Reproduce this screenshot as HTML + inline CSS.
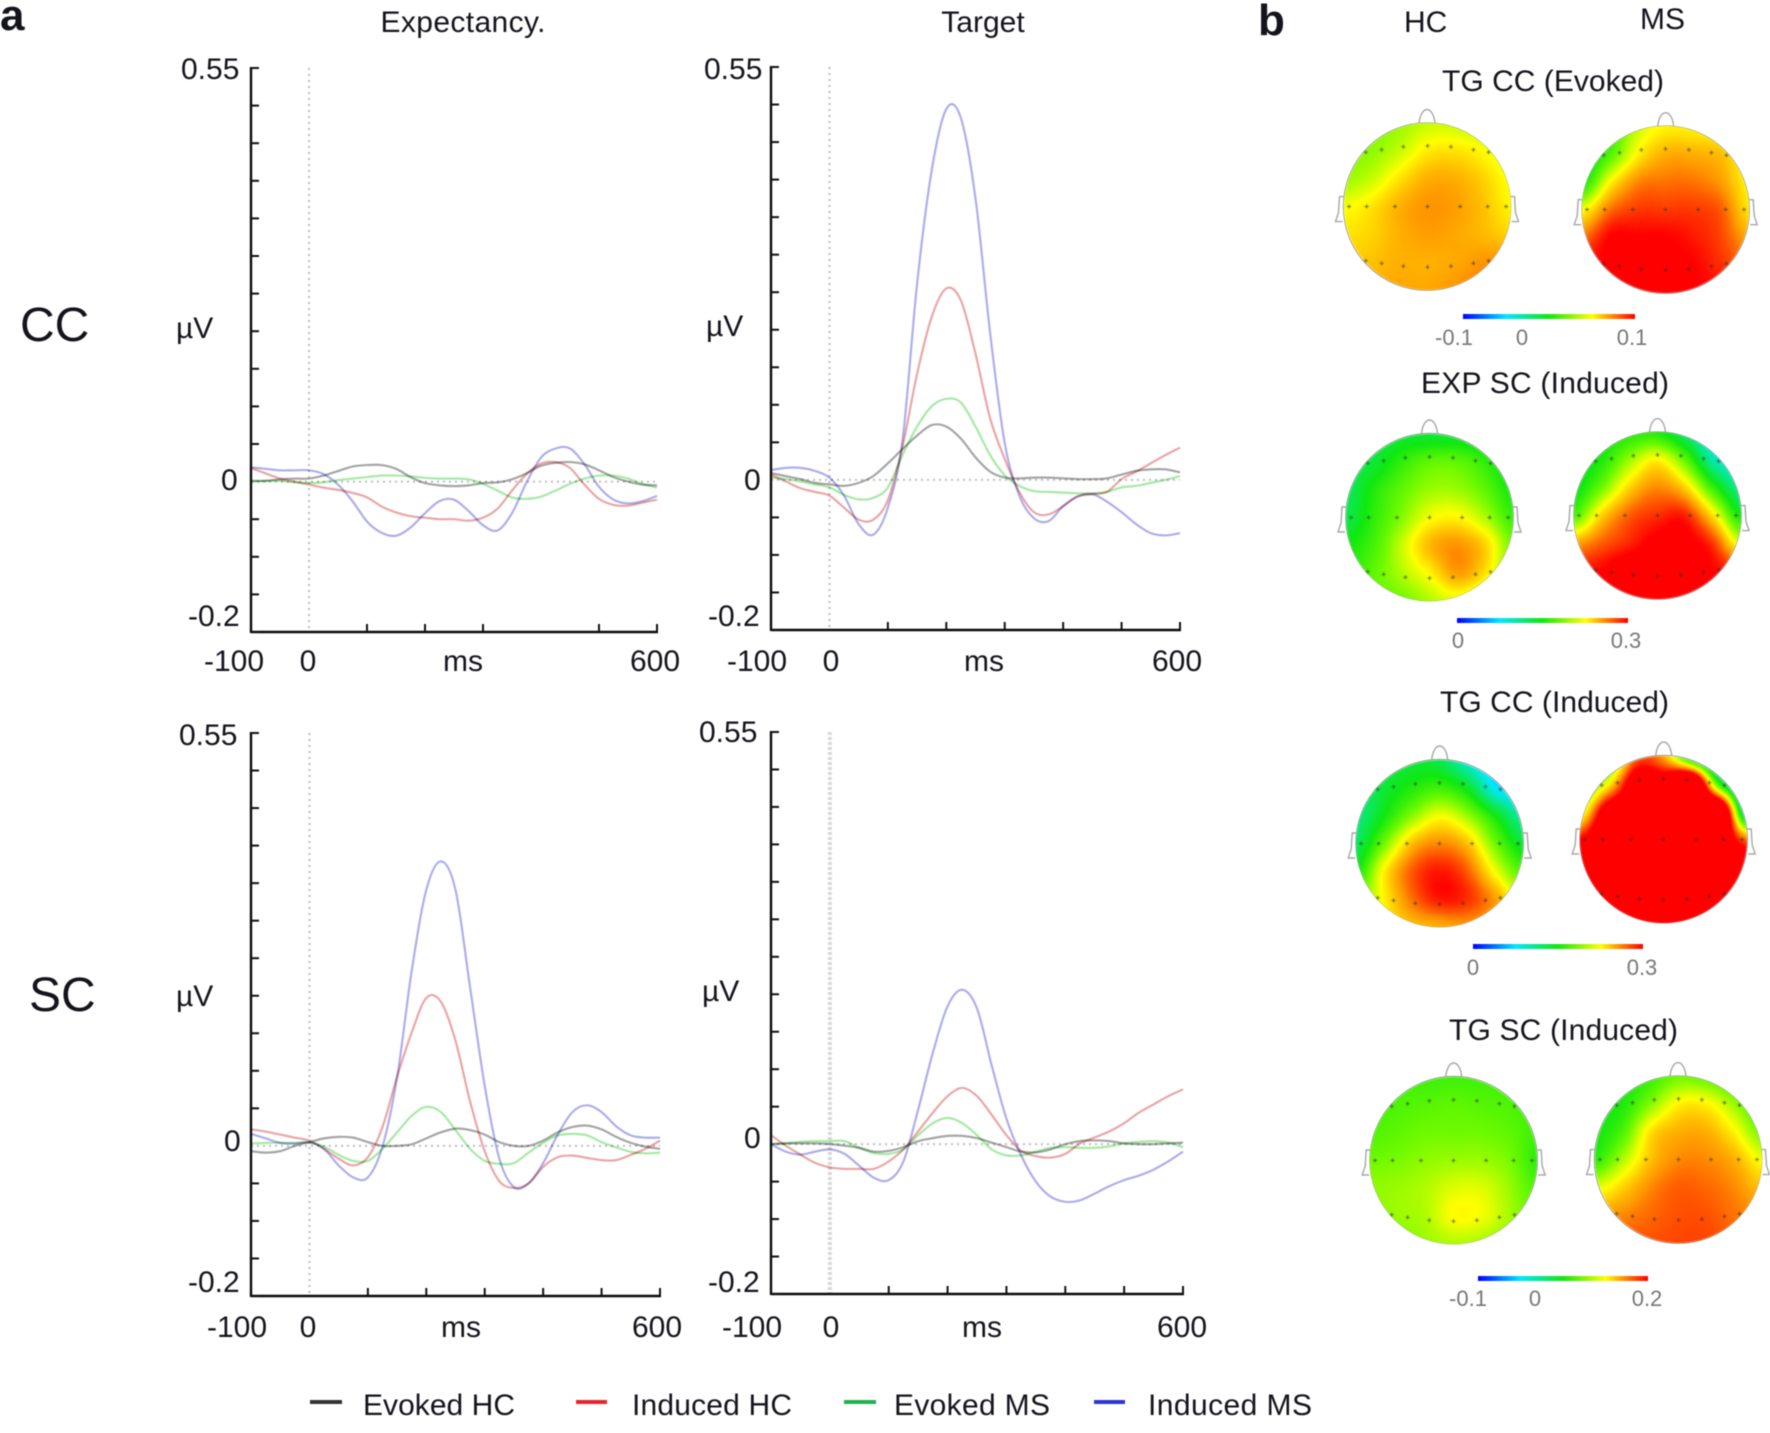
<!DOCTYPE html>
<html lang="en">
<head>
<meta charset="utf-8">
<title>ERP waveforms and topographic maps</title>
<style>
html,body{margin:0;padding:0;background:#fff;}
#stage{position:relative;width:1770px;height:1433px;overflow:hidden;background:#fff;}
#stage svg{position:absolute;left:0;top:0;filter:blur(.55px);}
#stage canvas{position:absolute;filter:blur(.6px);}
text{font-family:"Liberation Sans",sans-serif;fill:#14141c;}
.t{font-size:30px;}
.g{font-size:22px;fill:#777;text-anchor:middle;}
.m{text-anchor:middle;}
</style>
</head>
<body>
<div id="stage">
<svg id="fig" width="1770" height="1433" viewBox="0 0 1770 1433">
  <text x="0" y="30" font-size="44" font-weight="700">a</text>
  <text x="1258" y="35" font-size="44" font-weight="700">b</text>
  <text class="t m" x="463" y="32" textLength="165">Expectancy.</text>
  <text class="t m" x="983" y="32">Target</text>
  <text x="20" y="341" font-size="48">CC</text>
  <text x="29" y="1011" font-size="48">SC</text>

  <g>
    <text class="t" x="181" y="79">0.55</text><text class="t" x="221" y="490">0</text><text class="t" x="188" y="626">-0.2</text>
    <text class="t" x="176" y="338">µV</text><text class="t" x="204" y="671">-100</text><text class="t m" x="308" y="671">0</text>
    <text class="t m" x="463" y="671">ms</text><text class="t m" x="655" y="671">600</text>
  </g>
  <g>
    <text class="t" x="704" y="79">0.55</text><text class="t" x="744" y="490">0</text><text class="t" x="708" y="626">-0.2</text>
    <text class="t" x="706" y="336">µV</text><text class="t" x="727" y="671">-100</text><text class="t m" x="831" y="671">0</text>
    <text class="t m" x="984" y="671">ms</text><text class="t m" x="1177" y="671">600</text>
  </g>
  <g>
    <text class="t" x="179" y="745">0.55</text><text class="t" x="224" y="1151">0</text><text class="t" x="188" y="1292">-0.2</text>
    <text class="t" x="176" y="1006">µV</text><text class="t" x="207" y="1337">-100</text><text class="t m" x="308" y="1337">0</text>
    <text class="t m" x="461" y="1337">ms</text><text class="t m" x="657" y="1337">600</text>
  </g>
  <g>
    <text class="t" x="699" y="742">0.55</text><text class="t" x="744" y="1148">0</text><text class="t" x="708" y="1292">-0.2</text>
    <text class="t" x="702" y="1001">µV</text><text class="t" x="722" y="1337">-100</text><text class="t m" x="831" y="1337">0</text>
    <text class="t m" x="982" y="1337">ms</text><text class="t m" x="1182" y="1337">600</text>
  </g>

  <text class="t" x="1404" y="32">HC</text>
  <text class="t" x="1640" y="29">MS</text>
  <text class="t" x="1442" y="91" textLength="222">TG CC (Evoked)</text>
  <text class="t" x="1421" y="393" textLength="248">EXP SC (Induced)</text>
  <text class="t" x="1440" y="712" textLength="229">TG CC (Induced)</text>
  <text class="t" x="1449" y="1040" textLength="229">TG SC (Induced)</text>

  <defs>
    <linearGradient id="jet" x1="0" x2="1" y1="0" y2="0">
      <stop offset="0" stop-color="#0000ff"/><stop offset=".25" stop-color="#00e8ff"/>
      <stop offset=".5" stop-color="#10e810"/><stop offset=".75" stop-color="#ffff00"/>
      <stop offset="1" stop-color="#ff0000"/>
    </linearGradient>
  </defs>
  <rect x="1463" y="314" width="172" height="5" fill="url(#jet)"/>
  <text class="g" x="1454" y="345">-0.1</text><text class="g" x="1522" y="345">0</text><text class="g" x="1632" y="345">0.1</text>
  <rect x="1457" y="618" width="171" height="5" fill="url(#jet)"/>
  <text class="g" x="1458" y="648">0</text><text class="g" x="1626" y="648">0.3</text>
  <rect x="1473" y="944" width="170" height="5" fill="url(#jet)"/>
  <text class="g" x="1473" y="975">0</text><text class="g" x="1642" y="975">0.3</text>
  <rect x="1478" y="1276" width="170" height="5" fill="url(#jet)"/>
  <text class="g" x="1468" y="1306">-0.1</text><text class="g" x="1535" y="1306">0</text><text class="g" x="1647" y="1306">0.2</text>

  <g>
    <rect x="310" y="1400" width="32" height="4" fill="#333"/>
    <text class="t" x="363" y="1415" textLength="152">Evoked HC</text>
    <rect x="576" y="1400" width="31" height="4" fill="#e5242c"/>
    <text class="t" x="632" y="1415" textLength="160">Induced HC</text>
    <rect x="844" y="1400" width="32" height="4" fill="#22b14c"/>
    <text class="t" x="894" y="1415" textLength="156">Evoked MS</text>
    <rect x="1094" y="1400" width="31" height="4" fill="#2b35d8"/>
    <text class="t" x="1148" y="1415" textLength="164">Induced MS</text>
  </g>
</svg>
</div>
<script>
// ---------- waveform data ----------
const timeMs = [-100,-75,-50,-25,0,25,50,75,100,125,150,175,200,225,250,275,300,325,350,375,400,425,450,475,500,525,550,575,600];
const yTickValues = [0.55,0.5,0.45,0.4,0.35,0.3,0.25,0.2,0.15,0.1,0.05,-0.05,-0.1,-0.15,-0.2];
const xTickValues = [100,200,300,400,500,600];
const xTickValuesCcExp = [100,200,300,500,600];

const ccExpEvokedHc = [.001,.001,.003,.004,.004,.008,.014,.020,.022,.022,.017,.006,-.002,-.005,-.006,-.005,-.002,-.001,.003,.011,.021,.025,.026,.023,.015,.006,0,-.004,-.005];
const ccExpInducedHc = [.018,.011,.004,0,-.004,-.008,-.011,-.015,-.021,-.033,-.041,-.046,-.048,-.050,-.050,-.052,-.048,-.036,-.012,.010,.024,.026,.018,-.004,-.023,-.031,-.032,-.028,-.024];
const ccExpEvokedMs = [0,.001,.001,-.001,-.002,-.001,.002,.004,.006,.008,.008,.007,.005,.004,.004,.003,-.003,-.012,-.021,-.023,-.020,-.012,-.003,.004,.008,.008,.004,-.003,-.008];
const ccExpInducedMs = [.019,.017,.015,.015,.015,.010,-.004,-.026,-.053,-.068,-.072,-.061,-.042,-.026,-.024,-.039,-.058,-.065,-.042,-.001,.032,.044,.044,.023,-.007,-.024,-.029,-.026,-.019];

const ccTgtEvokedHc = [.009,.005,.001,-.004,-.006,-.008,-.004,.005,.022,.041,.059,.073,.071,.055,.030,.011,.003,.002,.003,.003,.002,.001,.001,.002,.007,.012,.014,.014,.010];
const ccTgtInducedHc = [.007,-.002,-.011,-.016,-.021,-.037,-.053,-.053,-.027,.044,.141,.217,.255,.239,.168,.082,.028,-.016,-.043,-.046,-.035,-.022,-.019,-.016,.001,.011,.022,.033,.043];
const ccTgtEvokedMs = [.003,.001,-.002,-.006,-.010,-.020,-.026,-.024,-.010,.033,.071,.098,.108,.103,.071,.033,.006,-.008,-.015,-.016,-.017,-.018,-.018,-.016,-.010,-.008,-.004,0,.005];
const ccTgtInducedMs = [.013,.016,.016,.012,.003,-.021,-.059,-.073,-.037,.052,.261,.412,.494,.482,.375,.196,.049,-.021,-.051,-.055,-.035,-.022,-.019,-.029,-.043,-.059,-.071,-.074,-.071];

const scExpEvokedHc = [-.007,-.009,-.007,0,.005,.010,.012,.011,.005,0,0,.002,.010,.018,.023,.021,.015,.005,0,0,.007,.018,.025,.027,.022,.012,.004,-.001,-.004];
const scExpInducedHc = [.022,.019,.015,.011,.007,-.004,-.017,-.026,-.015,.025,.092,.151,.197,.192,.140,.059,-.007,-.047,-.056,-.050,-.028,-.015,-.013,-.016,-.019,-.019,-.012,-.004,.007];
const scExpEvokedMs = [.003,.004,.004,.004,.004,-.001,-.012,-.020,-.020,-.004,.018,.040,.052,.045,.021,-.004,-.020,-.024,-.023,-.009,.004,.014,.016,.014,.005,-.002,-.008,-.010,-.009];
const scExpInducedMs = [.016,.010,.004,.003,.005,-.004,-.026,-.042,-.042,-.001,.091,.233,.341,.379,.341,.211,.080,-.017,-.055,-.050,-.023,.015,.045,.054,.045,.026,.014,.011,.011];

const scTgtEvokedHc = [0,.001,.001,.001,0,-.002,-.005,-.010,-.009,-.004,.004,.008,.011,.011,.008,.002,-.004,-.010,-.011,-.007,0,.004,.005,.004,.001,0,0,.001,.002];
const scTgtInducedHc = [.012,-.002,-.014,-.025,-.031,-.033,-.033,-.033,-.023,-.007,.017,.042,.064,.075,.064,.039,.012,-.009,-.016,-.018,-.013,.001,.009,.017,.028,.042,.053,.064,.073];
const scTgtEvokedMs = [0,.001,.003,.004,.004,.004,-.005,-.012,-.013,-.007,.012,.028,.035,.028,.012,-.007,-.015,-.015,-.010,-.005,-.004,-.005,-.005,-.003,.001,.003,.004,.002,-.004];
const scTgtInducedMs = [0,-.010,-.014,-.010,-.007,-.013,-.029,-.045,-.048,-.023,.046,.122,.184,.206,.181,.105,.034,-.015,-.050,-.070,-.077,-.075,-.066,-.056,-.048,-.042,-.034,-.023,-.010];

// ---------- topographic map data (colour-scale position, top row first) ----------
const topoTgCcEvokedHc = [
 .64,.64,.66,.70,.70,.68,.66,
 .64,.65,.70,.77,.78,.75,.70,
 .66,.70,.78,.84,.84,.80,.74,
 .74,.78,.84,.87,.86,.82,.76,
 .78,.80,.84,.86,.85,.83,.80,
 .80,.82,.84,.84,.85,.87,.88,
 .82,.84,.85,.85,.87,.90,.90];
const topoTgCcEvokedMs = [
 .45,.55,.70,.76,.76,.74,.72,
 .45,.58,.76,.84,.84,.82,.74,
 .50,.75,.88,.90,.90,.86,.76,
 .74,.90,.95,.95,.95,.92,.78,
 .90,1,1,1,.98,.94,.85,
 1,1,1,1,1,.96,.92,
 1,1,1,1,1,1,1];
const topoExpScInducedHc = [
 .42,.44,.46,.46,.46,.44,.42,
 .42,.46,.54,.60,.60,.54,.46,
 .42,.52,.60,.66,.66,.60,.50,
 .44,.54,.64,.74,.76,.68,.55,
 .50,.57,.70,.83,.87,.80,.62,
 .53,.60,.68,.76,.86,.78,.62,
 .58,.60,.62,.68,.72,.66,.60];
const topoExpScInducedMs = [
 .46,.48,.52,.52,.40,.25,.20,
 .46,.52,.66,.76,.60,.34,.25,
 .48,.62,.80,.88,.80,.55,.36,
 .58,.80,.92,.96,.97,.78,.50,
 .85,.92,.97,1.02,1.02,.95,.72,
 .98,1,1.05,1.05,1.05,1,.98,
 1,1,1,1,1,1,1];
const topoTgCcInducedHc = [
 .42,.44,.46,.44,.30,.16,.12,
 .38,.46,.52,.56,.48,.26,.18,
 .38,.50,.64,.74,.66,.50,.34,
 .42,.62,.82,.88,.82,.62,.46,
 .50,.76,.92,.98,.92,.74,.58,
 .62,.76,.90,.98,.96,.86,.70,
 .70,.76,.82,.84,.86,.82,.76];
const topoTgCcInducedMs = [
 .50,.50,.90,.85,.45,.20,.20,
 .50,.75,1.1,1.1,1.3,.55,.20,
 .70,1.1,1.1,1.1,1.1,1.3,.30,
 1,1.15,1.1,1.1,1.1,1.15,.90,
 1.1,1.1,1.1,1.1,1.1,1.1,1.1,
 1.1,1.1,1.1,1.1,1.1,1.1,1.1,
 1.1,1.1,1.1,1.1,1.1,1.1,1.1];
const topoTgScInducedHc = [
 .56,.56,.56,.56,.56,.56,.56,
 .56,.58,.59,.60,.59,.58,.56,
 .58,.60,.62,.62,.62,.60,.56,
 .62,.63,.65,.66,.66,.63,.54,
 .65,.66,.68,.72,.72,.66,.58,
 .64,.66,.68,.75,.74,.67,.60,
 .62,.63,.66,.68,.67,.64,.62];
const topoTgScInducedMs = [
 .50,.50,.55,.62,.60,.54,.50,
 .50,.52,.64,.76,.76,.66,.54,
 .50,.58,.78,.84,.84,.76,.62,
 .54,.68,.82,.88,.88,.84,.74,
 .72,.80,.88,.92,.91,.88,.82,
 .85,.88,.91,.93,.93,.90,.87,
 .90,.92,.93,.94,.94,.92,.90];

// ---------- drawing ----------
const SVGNS = 'http://www.w3.org/2000/svg';
const fig = document.getElementById('fig');
const stage = document.getElementById('stage');
const seriesStyles = {
  evokedHc: '#a6a6a6',
  inducedHc: '#eba6a6',
  evokedMs: '#a6eaa6',
  inducedMs: '#aeaeec'
};
const panels = [
  {name:'cc-expectancy', left:251, right:657, top:68, bottom:632, zeroWide:false, ticks:xTickValuesCcExp,
   series:{evokedHc:ccExpEvokedHc, inducedHc:ccExpInducedHc, evokedMs:ccExpEvokedMs, inducedMs:ccExpInducedMs}},
  {name:'cc-target', left:771, right:1180, top:67, bottom:630, zeroWide:false, ticks:xTickValues,
   series:{evokedHc:ccTgtEvokedHc, inducedHc:ccTgtInducedHc, evokedMs:ccTgtEvokedMs, inducedMs:ccTgtInducedMs}},
  {name:'sc-expectancy', left:251, right:660, top:733, bottom:1296, zeroWide:false, ticks:xTickValues,
   series:{evokedHc:scExpEvokedHc, inducedHc:scExpInducedHc, evokedMs:scExpEvokedMs, inducedMs:scExpInducedMs}},
  {name:'sc-target', left:771, right:1183, top:732, bottom:1294, zeroWide:true, ticks:xTickValues,
   series:{evokedHc:scTgtEvokedHc, inducedHc:scTgtInducedHc, evokedMs:scTgtEvokedMs, inducedMs:scTgtInducedMs}}
];

function svgLine(parent, x1, y1, x2, y2, stroke, width, dash) {
  const l = document.createElementNS(SVGNS, 'line');
  l.setAttribute('x1', x1); l.setAttribute('y1', y1);
  l.setAttribute('x2', x2); l.setAttribute('y2', y2);
  l.setAttribute('stroke', stroke); l.setAttribute('stroke-width', width);
  if (dash) l.setAttribute('stroke-dasharray', dash);
  parent.appendChild(l);
  return l;
}
function smoothPath(pts) {
  let d = 'M' + pts[0][0].toFixed(2) + ' ' + pts[0][1].toFixed(2);
  for (let i = 0; i < pts.length - 1; i++) {
    const p0 = pts[Math.max(i - 1, 0)], p1 = pts[i], p2 = pts[i + 1], p3 = pts[Math.min(i + 2, pts.length - 1)];
    const c1x = p1[0] + (p2[0] - p0[0]) / 6, c1y = p1[1] + (p2[1] - p0[1]) / 6;
    const c2x = p2[0] - (p3[0] - p1[0]) / 6, c2y = p2[1] - (p3[1] - p1[1]) / 6;
    d += 'C' + c1x.toFixed(2) + ' ' + c1y.toFixed(2) + ' ' + c2x.toFixed(2) + ' ' + c2y.toFixed(2) + ' ' + p2[0].toFixed(2) + ' ' + p2[1].toFixed(2);
  }
  return d;
}
panels.forEach(function (p) {
  const xScale = function (ms) { return p.left + (ms + 100) / 700 * (p.right - p.left); };
  const yScale = function (v) { return p.top + (0.55 - v) / 0.75 * (p.bottom - p.top); };
  const g = document.createElementNS(SVGNS, 'g');
  
  
  fig.appendChild(g);

  const zeroH = svgLine(g, p.left, yScale(0), p.right, yScale(0), '#bdbdbd', 2, '2 4');
  
  
  const zeroV = svgLine(g, xScale(0), p.top, xScale(0), p.bottom, p.zeroWide ? '#d8d8d8' : '#bcbcbc', p.zeroWide ? 4 : 2, p.zeroWide ? '3 2' : '2 4');
  
  

  Object.keys(p.series).forEach(function (key) {
    const values = p.series[key];
    const pts = values.map(function (v, i) { return [xScale(timeMs[i]), yScale(v)]; });
    const path = document.createElementNS(SVGNS, 'path');
    path.setAttribute('d', smoothPath(pts));
    path.setAttribute('fill', 'none');
    path.setAttribute('stroke', seriesStyles[key]);
    path.setAttribute('stroke-width', '2.2');
    path.setAttribute('style', 'mix-blend-mode:multiply');
    
    
    g.appendChild(path);
  });

  const yAxis = svgLine(g, p.left, p.top - 1, p.left, p.bottom + 1, '#0a0a0a', 2.4);
  
  
  const xAxis = svgLine(g, p.left, p.bottom, p.right + 1, p.bottom, '#0a0a0a', 2.4);
  
  
  yTickValues.forEach(function (v) {
    const t = svgLine(g, p.left, yScale(v), p.left + 8, yScale(v), '#111', 2);
    
    
  });
  p.ticks.forEach(function (ms) {
    const t = svgLine(g, xScale(ms), p.bottom, xScale(ms), p.bottom - 8, '#111', 2);
    
    
  });
});

// topographic maps
const maps = [
  {name:'tg-cc-evoked-hc', cx:1427, cy:206.6, values:topoTgCcEvokedHc},
  {name:'tg-cc-evoked-ms', cx:1665.7, cy:209.7, values:topoTgCcEvokedMs},
  {name:'exp-sc-induced-hc', cx:1429.5, cy:517, values:topoExpScInducedHc},
  {name:'exp-sc-induced-ms', cx:1657.5, cy:515.6, values:topoExpScInducedMs},
  {name:'tg-cc-induced-hc', cx:1439.7, cy:843, values:topoTgCcInducedHc},
  {name:'tg-cc-induced-ms', cx:1663.7, cy:839, values:topoTgCcInducedMs},
  {name:'tg-sc-induced-hc', cx:1453.7, cy:1160, values:topoTgScInducedHc},
  {name:'tg-sc-induced-ms', cx:1678, cy:1159.6, values:topoTgScInducedMs}
];
const R = 83.5;
const colorStops = [[0,0,0,255],[.25,0,232,255],[.5,16,232,16],[.62,110,250,0],[.75,255,255,0],[.87,255,150,0],[1,255,0,0]];
function jet(v) {
  v = Math.max(0, Math.min(1, v));
  for (let i = 1; i < colorStops.length; i++) {
    if (v <= colorStops[i][0]) {
      const a = colorStops[i - 1], b = colorStops[i], t = (v - a[0]) / (b[0] - a[0]);
      return [a[1] + (b[1] - a[1]) * t, a[2] + (b[2] - a[2]) * t, a[3] + (b[3] - a[3]) * t];
    }
  }
  return [255, 0, 0];
}
function cr(a, b, c, d, t) {
  return .5 * (2 * b + (c - a) * t + (2 * a - 5 * b + 4 * c - d) * t * t + (3 * b - a - 3 * c + d) * t * t * t);
}
function sample(vals, u, v) {
  const iu = Math.min(5, Math.max(0, Math.floor(u))), iv = Math.min(5, Math.max(0, Math.floor(v)));
  const tu = u - iu, tv = v - iv;
  const get = function (c, r) {
    return vals[Math.max(0, Math.min(6, r)) * 7 + Math.max(0, Math.min(6, c))];
  };
  const rows = [];
  for (let r = -1; r <= 2; r++) {
    rows.push(cr(get(iu - 1, iv + r), get(iu, iv + r), get(iu + 1, iv + r), get(iu + 2, iv + r), tu));
  }
  return cr(rows[0], rows[1], rows[2], rows[3], tv);
}
const electrodeRowOuter = [[-.74,.65],[-.55,.68],[-.29,.715],[0,.726],[.28,.715],[.55,.68],[.73,.65]];
const electrodeRowMiddle = [-.94,-.73,-.39,0,.39,.72,.94];

maps.forEach(function (m) {
  const size = Math.ceil(2 * R) + 4, half = size / 2;
  const cv = document.createElement('canvas');
  cv.width = size; cv.height = size;
  cv.style.left = (m.cx - half) + 'px';
  cv.style.top = (m.cy - half) + 'px';
  
  
  const ctx = cv.getContext('2d');
  const img = ctx.createImageData(size, size);
  for (let y = 0; y < size; y++) {
    for (let x = 0; x < size; x++) {
      const dx = (x + .5 - half) / R, dy = (y + .5 - half) / R;
      const rr = Math.sqrt(dx * dx + dy * dy);
      if (rr > 1 + 1 / R) continue;
      const c = jet(sample(m.values, (dx + 1) * 3, (dy + 1) * 3));
      const k = (y * size + x) * 4;
      img.data[k] = c[0]; img.data[k + 1] = c[1]; img.data[k + 2] = c[2];
      img.data[k + 3] = 255 * Math.max(0, Math.min(1, (1 - rr) * R + .5));
    }
  }
  ctx.putImageData(img, 0, 0);
  ctx.fillStyle = 'rgba(40,50,40,.65)';
  const dot = function (fx, fy) {
    const px = half + fx * R, py = half + fy * R;
    ctx.fillRect(px - 2, py - .5, 4, 1);
    ctx.fillRect(px - .5, py - 2, 1, 4);
  };
  electrodeRowOuter.forEach(function (e) { dot(e[0], -e[1]); dot(e[0], e[1]); });
  electrodeRowMiddle.forEach(function (fx) { dot(fx, 0); });
  stage.appendChild(cv);

  const g = document.createElementNS(SVGNS, 'g');
  
  
  g.setAttribute('fill', 'none');
  g.setAttribute('stroke', '#a8a8a8');
  g.setAttribute('stroke-width', '1.4');
  const circle = document.createElementNS(SVGNS, 'circle');
  circle.setAttribute('cx', m.cx); circle.setAttribute('cy', m.cy); circle.setAttribute('r', R);
  g.appendChild(circle);
  const nose = document.createElementNS(SVGNS, 'path');
  nose.setAttribute('d', 'M' + (m.cx - 8) + ' ' + (m.cy - R) + 'C' + (m.cx - 6) + ' ' + (m.cy - R - 18) + ' ' + (m.cx + 6) + ' ' + (m.cy - R - 18) + ' ' + (m.cx + 8) + ' ' + (m.cy - R));
  g.appendChild(nose);
  [-1, 1].forEach(function (s) {
    const ear = document.createElementNS(SVGNS, 'path');
    const ex = m.cx + s * R;
    ear.setAttribute('d', 'M' + ex + ' ' + (m.cy - 10) + 'L' + (ex + s * 4) + ' ' + (m.cy - 10) + 'L' + (ex + s * 5) + ' ' + (m.cy + 6) + 'L' + (ex + s * 8) + ' ' + (m.cy + 15) + 'L' + (ex + s * 1) + ' ' + (m.cy + 15));
    g.appendChild(ear);
  });
  fig.appendChild(g);
});
</script>
</body>
</html>
